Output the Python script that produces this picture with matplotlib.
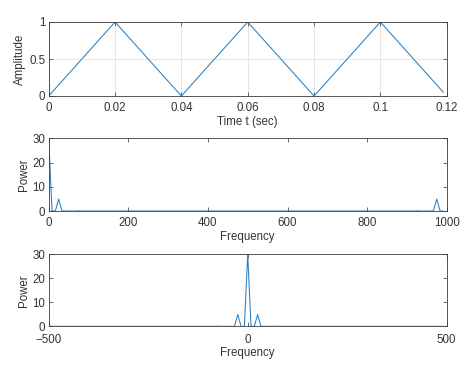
#! /usr/bin/env python3

import matplotlib
import matplotlib.pyplot as plt

# Triangle wave corners (period 0.04 s, sampled up to 0.119 s)
time_t = [0.0, 0.02, 0.04, 0.06, 0.08, 0.10, 0.119]
amplitude = [0.0, 1.0, 0.0, 1.0, 0.0, 1.0, 0.05]

# One-sided power spectrum (bin spacing ~8.33 Hz), zero elsewhere
freq = [0.0, 8.33, 16.67, 25.0, 33.33, 66.67, 75.0, 83.33,
        916.67, 925.0, 933.33, 966.67, 975.0, 983.33, 991.67]
power = [30.0, 0.0, 0.0, 4.9, 0.0, 0.0, 0.06, 0.0,
         0.0, 0.06, 0.0, 0.0, 4.9, 0.0, 0.0]

# Centered spectrum (fftshift)
freq_shift = [-500.0, -83.33, -75.0, -66.67, -33.33, -25.0, -16.67, -8.33,
              0.0, 8.33, 16.67, 25.0, 33.33, 66.67, 75.0, 83.33, 491.67]
power_shift = [0.0, 0.0, 0.06, 0.0, 0.0, 4.9, 0.0, 0.0,
               30.0, 0.0, 0.0, 4.9, 0.0, 0.0, 0.06, 0.0, 0.0]

LINE = "#2a7fc0"
AXC = "#333333"

matplotlib.rcParams.update({
    "font.family": ["Liberation Sans", "DejaVu Sans"],
    "font.size": 8.3,
    "axes.edgecolor": "#3a3a3a",
    "axes.linewidth": 0.6,
    "xtick.color": AXC,
    "ytick.color": AXC,
    "xtick.direction": "in",
    "ytick.direction": "in",
    "xtick.top": True,
    "ytick.right": True,
    "xtick.major.size": 3,
    "ytick.major.size": 3,
    "xtick.major.width": 0.5,
    "ytick.major.width": 0.5,
    "xtick.major.pad": 4,
    "ytick.major.pad": 2.5,
    "axes.labelcolor": AXC,
    "text.color": AXC,
})

W, H = 474, 367
fig = plt.figure(figsize=(W / 100, H / 100), dpi=100)


def box(left, top, right, bottom):
    return [left / W, 1 - bottom / H, (right - left) / W, (bottom - top) / H]


ax1 = fig.add_axes(box(48.7, 22, 446.7, 96))
ax1.plot(time_t, amplitude, color=LINE, lw=0.75)
ax1.set_xlim(0, 0.12)
ax1.set_ylim(0, 1)
ax1.set_xticks([0, 0.02, 0.04, 0.06, 0.08, 0.1, 0.12])
ax1.set_xticklabels(["0", "0.02", "0.04", "0.06", "0.08", "0.1", "0.12"])
ax1.set_yticks([0, 0.5, 1])
ax1.set_yticklabels(["0", "0.5", "1"])
ax1.grid(True, color="#dcdcdc", lw=0.5)
ax1.set_axisbelow(True)
ax1.set_xlabel("Time t (sec)", labelpad=1.5)
ax1.set_ylabel("Amplitude", labelpad=2)

ax2 = fig.add_axes(box(48.7, 138.3, 446.7, 211))
ax2.plot(freq, power, color=LINE, lw=0.75)
ax2.set_xlim(0, 1000)
ax2.set_ylim(0, 30)
ax2.set_xticks(range(0, 1001, 200))
ax2.set_yticks([0, 10, 20, 30])
ax2.set_xlabel("Frequency", labelpad=1.5)
ax2.set_ylabel("Power", labelpad=2)

ax3 = fig.add_axes(box(48.7, 254.3, 446.7, 326.3))
ax3.plot(freq_shift, power_shift, color=LINE, lw=0.75)
ax3.set_xlim(-500, 500)
ax3.set_ylim(0, 30)
ax3.set_xticks([-500, 0, 500])
ax3.set_yticks([0, 10, 20, 30])
ax3.tick_params(axis="x", pad=5.5)
ax3.set_xlabel("Frequency", labelpad=0.5)
ax3.set_ylabel("Power", labelpad=2)

fig.savefig("out.png", dpi=100)
